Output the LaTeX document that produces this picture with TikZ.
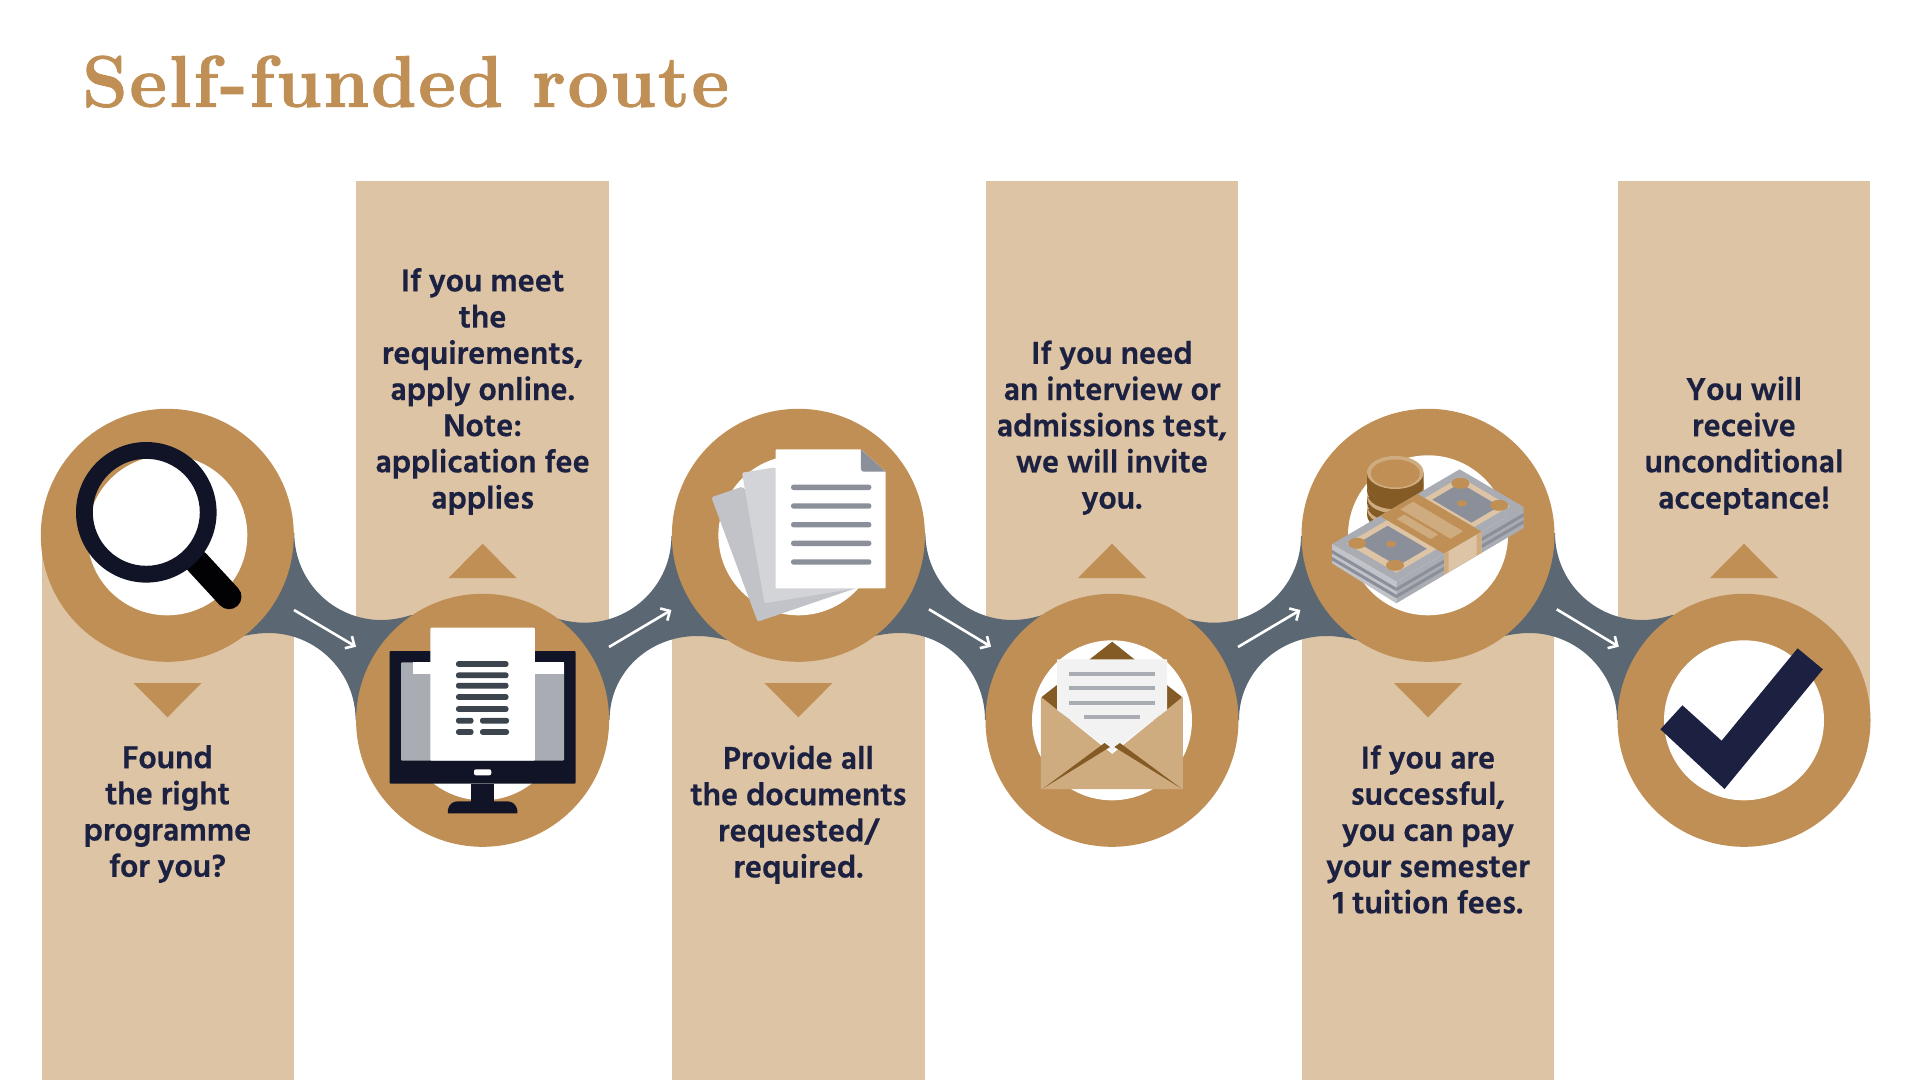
\documentclass[tikz,border=0pt]{standalone}
\usepackage{fontspec}
\usetikzlibrary{arrows.meta}
\newfontfamily\bodyfont[BoldFeatures={FakeBold=0.5}]{Hind Siliguri}
\newfontfamily\titlefont[LetterSpace=2.4,BoldFeatures={FakeBold=1.2}]{Latin Modern Roman}
\definecolor{gold}{HTML}{BF8F55}
\definecolor{sand}{HTML}{DDC4A5}
\definecolor{slatec}{HTML}{5B6873}
\definecolor{navy}{HTML}{1C2142}
\definecolor{ink}{HTML}{101426}
\definecolor{greyA}{HTML}{A9ACB3}
\definecolor{greyB}{HTML}{8A8F99}
\definecolor{greyC}{HTML}{D2D4D8}
\definecolor{greyD}{HTML}{C1C3C9}
\definecolor{brownc}{HTML}{845B24}
\definecolor{tanc}{HTML}{CFAC7F}
\definecolor{paperc}{HTML}{F2F2F3}
\definecolor{lineink}{HTML}{3C444D}
\tikzset{
  ring/.style={circle,fill=gold,minimum size=253pt,inner sep=0pt},
  hole/.style={circle,fill=white,minimum size=160pt,inner sep=0pt},
  body/.style={text=navy,font=\bodyfont\bfseries\fontsize{32.5}{36.2}\selectfont,align=center,inner sep=0pt},
  arrowline/.style={draw=white,line width=2.6pt,-{Straight Barb[length=7pt,width=14pt,line width=2.6pt]}},
}
\newcommand{\linkDown}[2]{%
 \fill[slatec] (#1,533)--(#1+127,533) .. controls (#1+127,581) and (#1+166,620) .. (#1+214,620)
   .. controls (#1+224,620) and (#1+235,618) .. (#1+244,615)
   --(#2,620)--(#2,720)--(#2-127,720) .. controls (#2-127,672) and (#1+149,633) .. (#1+101.3,633)
   .. controls (#1+92,633) and (#1+82,634.5) .. (#1+72,637)--(#1,637)--cycle;}
\newcommand{\linkUp}[2]{%
 \fill[slatec] (#2,536)--(#2-127,536) .. controls (#2-127,584) and (#2-166,622.7) .. (#2-214,622.7)
   .. controls (#2-224,622.7) and (#2-235,620.7) .. (#2-244,617.7)
   --(#1,622.7)--(#1,720)--(#1+127,720) .. controls (#1+127,672) and (#2-149,636) .. (#2-101.3,636)
   .. controls (#2-92,636) and (#2-82,637.5) .. (#2-72,640)--(#2,640)--cycle;}
\newcommand{\para}[4]{(#1,#2)--(#3,#2)--(#3,#4)--(#1,#4)--cycle}
\begin{document}
\begin{tikzpicture}[x=1pt,y=-1pt]
\useasboundingbox (0,0) rectangle (1920,1080);
% bands
\fill[sand] (41.5,535) rectangle (294,1080);
\fill[sand] (356,181) rectangle (609,720);
\fill[sand] (672,535) rectangle (924.5,1080);
\fill[sand] (986,181) rectangle (1238,720);
\fill[sand] (1302,535) rectangle (1554,1080);
\fill[sand] (1618,181) rectangle (1870,720);
% links
\linkDown{167.3}{482.6}
\linkUp{482.6}{798.4}
\linkDown{798.4}{1112}
\linkUp{1112}{1428}
\linkDown{1428}{1744}
% circles
\node[ring] (c1) at (167.3,535.3) {};
\node[ring] (c2) at (482.6,720.3) {};
\node[ring] (c3) at (798.4,535.3) {};
\node[ring] (c4) at (1112,720.3) {};
\node[ring] (c5) at (1428,535.3) {};
\node[ring] (c6) at (1744,720.3) {};
\node[hole] (h1) at (c1) {};
\node[hole] (h2) at (c2) {};
\node[hole] (h3) at (c3) {};
\node[hole] (h4) at (c4) {};
\node[hole] (h5) at (c5) {};
\node[hole] (h6) at (c6) {};
% arrows
\coordinate (a1s) at (294,610); \coordinate (a1e) at (356,646.7);
\coordinate (a2s) at (609,647); \coordinate (a2e) at (671.4,610);
\coordinate (a3s) at (929,609.3); \coordinate (a3e) at (991,646.7);
\coordinate (a4s) at (1238,647); \coordinate (a4e) at (1300.4,610);
\coordinate (a5s) at (1556.7,609.3); \coordinate (a5e) at (1618.8,646.7);
\foreach \i in {1,...,5}{\draw[arrowline] (a\i s)--(a\i e);}
% triangles
\foreach \x in {167.5,798.4,1428}{\fill[gold] (\x-34,683)--(\x+34,683)--(\x,717.3)--cycle;}
\foreach \x in {482.6,1112,1744}{\fill[gold] (\x-34,578)--(\x+34,578)--(\x,543.7)--cycle;}
% magnifier
\draw[color=black!90!ink,line width=25pt,line cap=round] (197,562)--(229,596.7);
\fill[ink,even odd rule] (146.3,512.3) circle[radius=70.3pt] circle[radius=53.5pt];
% monitor
\fill[ink,rounded corners=1pt] (389.7,651) rectangle (575.6,783.7);
\fill[greyA,rounded corners=1pt] (401,662.3) rectangle (564,760.7);
\fill[white] (413,662.3) rectangle (564,674.3);
\fill[white,rounded corners=1pt] (430.4,627.7) rectangle (534.8,760.7);
\foreach \y in {664,675.3,685.7,697,709}{\fill[lineink,rounded corners=2.5pt] (456,\y-2.9) rectangle (508.5,\y+2.9);}
\foreach \y in {720.7,732}{\fill[lineink,rounded corners=2.5pt] (456,\y-2.9) rectangle (473.5,\y+2.9);
  \fill[lineink,rounded corners=2.5pt] (480,\y-2.9) rectangle (509,\y+2.9);}
\fill[white,rounded corners=2pt] (474,769.3) rectangle (491.3,775.3);
\fill[ink] (471,783.7) rectangle (494,803);
\fill[ink] (447.8,813.3) -- (447.8,810) .. controls (449,804) and (453,801.3) .. (458,801.3) -- (507,801.3) .. controls (512,801.3) and (516,804) .. (517.4,810) -- (517.4,813.3) -- cycle;
% documents
\fill[greyD,rounded corners=1.5pt] (711.4,497.3)--(742,486.7)--(858.4,587.3)--(757.6,621.7)--cycle;
\fill[greyC,rounded corners=1.5pt] (742,472.7)--(775.5,467.3)--(856.3,588.3)--(764.5,603.3)--cycle;
\fill[white,rounded corners=1pt] (775.5,449.3)--(860.8,449.3)--(885.7,471.7)--(885.7,588.3)--(775.5,588.3)--cycle;
\fill[greyB] (860.8,449.3)--(885.7,471.7)--(864,471.7) .. controls (862,471.7) and (860.8,470.5) .. (860.8,468)--cycle;
\foreach \y in {487.3,506,524.7,543.3,562}{\fill[greyB,rounded corners=2.5pt] (791,\y-2.7) rectangle (871.4,\y+2.7);}
% envelope
\fill[brownc] (1112.2,641.7)--(1042,696.7)--(1042,720)--(1181.6,720)--(1181.6,696.7)--cycle;
\fill[tanc] (1040.8,696.7)--(1112.2,754)--(1182.9,696.7)--(1182.9,789)--(1040.8,789)--cycle;
\fill[paperc] (1057.1,659.3)--(1167,659.3)--(1167,710)--(1112.2,751.7)--(1057.1,710)--cycle;
\foreach \y in {674,688.3,702.7}{\fill[greyA] (1069.4,\y-2) rectangle (1155,\y+2);}
\fill[greyA] (1083.7,715) rectangle (1140.4,719);
\fill[brownc] (1043.3,788.3)--(1104.5,743)--(1110,747)--cycle;
\fill[brownc] (1181,788.3)--(1119.9,743)--(1114.4,747)--cycle;
% coins
\foreach \o in {36,24,12}{
  \fill[brownc] (1367,472.5+\o)--(1367,478.5+\o) .. controls (1367,500+\o) and (1423.7,500+\o) .. (1423.7,478.5+\o)--(1423.7,472.5+\o)--cycle;
  \fill[tanc] (1367,468.5+\o)--(1367,472.5+\o) .. controls (1367,495+\o) and (1423.7,495+\o) .. (1423.7,472.5+\o)--(1423.7,468.5+\o) .. controls (1423.7,491+\o) and (1367,491+\o) .. (1367,468.5+\o)--cycle;
}
\fill[brownc] (1367,472.5)--(1367,484) .. controls (1367,508) and (1423.7,508) .. (1423.7,484)--(1423.7,472.5)--cycle;
\fill[tanc] (1395.3,472.5) ellipse[x radius=28.3pt,y radius=16.5pt];
\fill[gold] (1395.3,473.5) ellipse[x radius=24.5pt,y radius=14pt];
% money
\begin{scope}[shift={(1332.2,544)},x={(127.4pt,74.7pt)},y={(64.1pt,-37.7pt)}]
  \fill[greyA] (0,0)--(0,1)--(1,1)--(1,0)--cycle;
  \fill[greyD] (0,0)--(0,1)--([yshift=-21.6pt]0,1)--([yshift=-19.3pt]0,0)--cycle;
  \fill[greyA] (0,1)--(1,1)--([yshift=-21pt]1,1)--([yshift=-21.6pt]0,1)--cycle;
  \foreach \d in {6,13}{
    \fill[greyB] ([yshift=-\d pt]0,0)--([yshift=-\d pt]0,1)--([yshift=-\d pt-3.5pt]0,1)--([yshift=-\d pt-3.5pt]0,0)--cycle;
    \fill[greyB] ([yshift=-\d pt]0,1)--([yshift=-\d pt]1,1)--([yshift=-\d pt-3.5pt]1,1)--([yshift=-\d pt-3.5pt]0,1)--cycle;
  }
  \fill[sand] \para{.06}{.11}{.375}{.88};
  \fill[sand] \para{.67}{.11}{.95}{.88};
  \fill[greyB] \para{.11}{.19}{.34}{.8};
  \fill[greyB] \para{.69}{.19}{.91}{.8};
  \fill[gold] \para{.375}{0}{.67}{1};
  \fill[sand] (.375,1)--(.67,1)--([yshift=-21pt].67,1)--([yshift=-21pt].375,1)--cycle;
  \fill[tanc] (.375,1)--(.41,1)--([yshift=-21pt].41,1)--([yshift=-21pt].375,1)--cycle;
  \fill[tanc] (.63,1)--(.67,1)--([yshift=-21pt].67,1)--([yshift=-21pt].63,1)--cycle;
  \fill[tanc] \para{.50}{.07}{.60}{.85};
  \fill[tanc] \para{.42}{.17}{.48}{.7};
\end{scope}
\foreach \x/\y/\a/\b in {1357.1/543.3/9/5.5,1395/565.3/9/5.5,1391/544/5.2/3.2,1460.4/483.3/9/5.5,1499.2/505.3/9/5.5,1462/503.3/5.2/3.2}{
  \fill[gold] (\x,\y) ellipse[x radius=\a pt,y radius=\b pt];}
% check
\fill[navy] (1682.4,705.3)--(1721.6,740.7)--(1797.6,648.3)--(1822.9,669.3)--(1724.5,789)--(1660.4,729.3)--cycle;
% title
\node[anchor=base west,inner sep=0pt,text=gold,font=\titlefont\bfseries\fontsize{73}{73}\selectfont] (title) at (82,106.7) {Self-funded route};
% texts
\node[body,anchor=north] (t1) at (167.5,745) {Found\\the right\\programme\\for you?};
\node[body,anchor=south] (t2) at (482.6,515) {If you meet\\the\\requirements,\\apply online.\\Note:\\application fee\\applies};
\node[body,anchor=north] (t3) at (798.4,745) {Provide all\\the documents\\requested/\\required.};
\node[body,anchor=south] (t4) at (1112,515) {If you need\\an interview or\\admissions test,\\we will invite\\you.};
\node[body,anchor=north] (t5) at (1428,745) {If you are\\successful,\\you can pay\\your semester\\1 tuition fees.};
\node[body,anchor=south] (t6) at (1744,515) {You will\\receive\\unconditional\\acceptance!};
\end{tikzpicture}
\end{document}
